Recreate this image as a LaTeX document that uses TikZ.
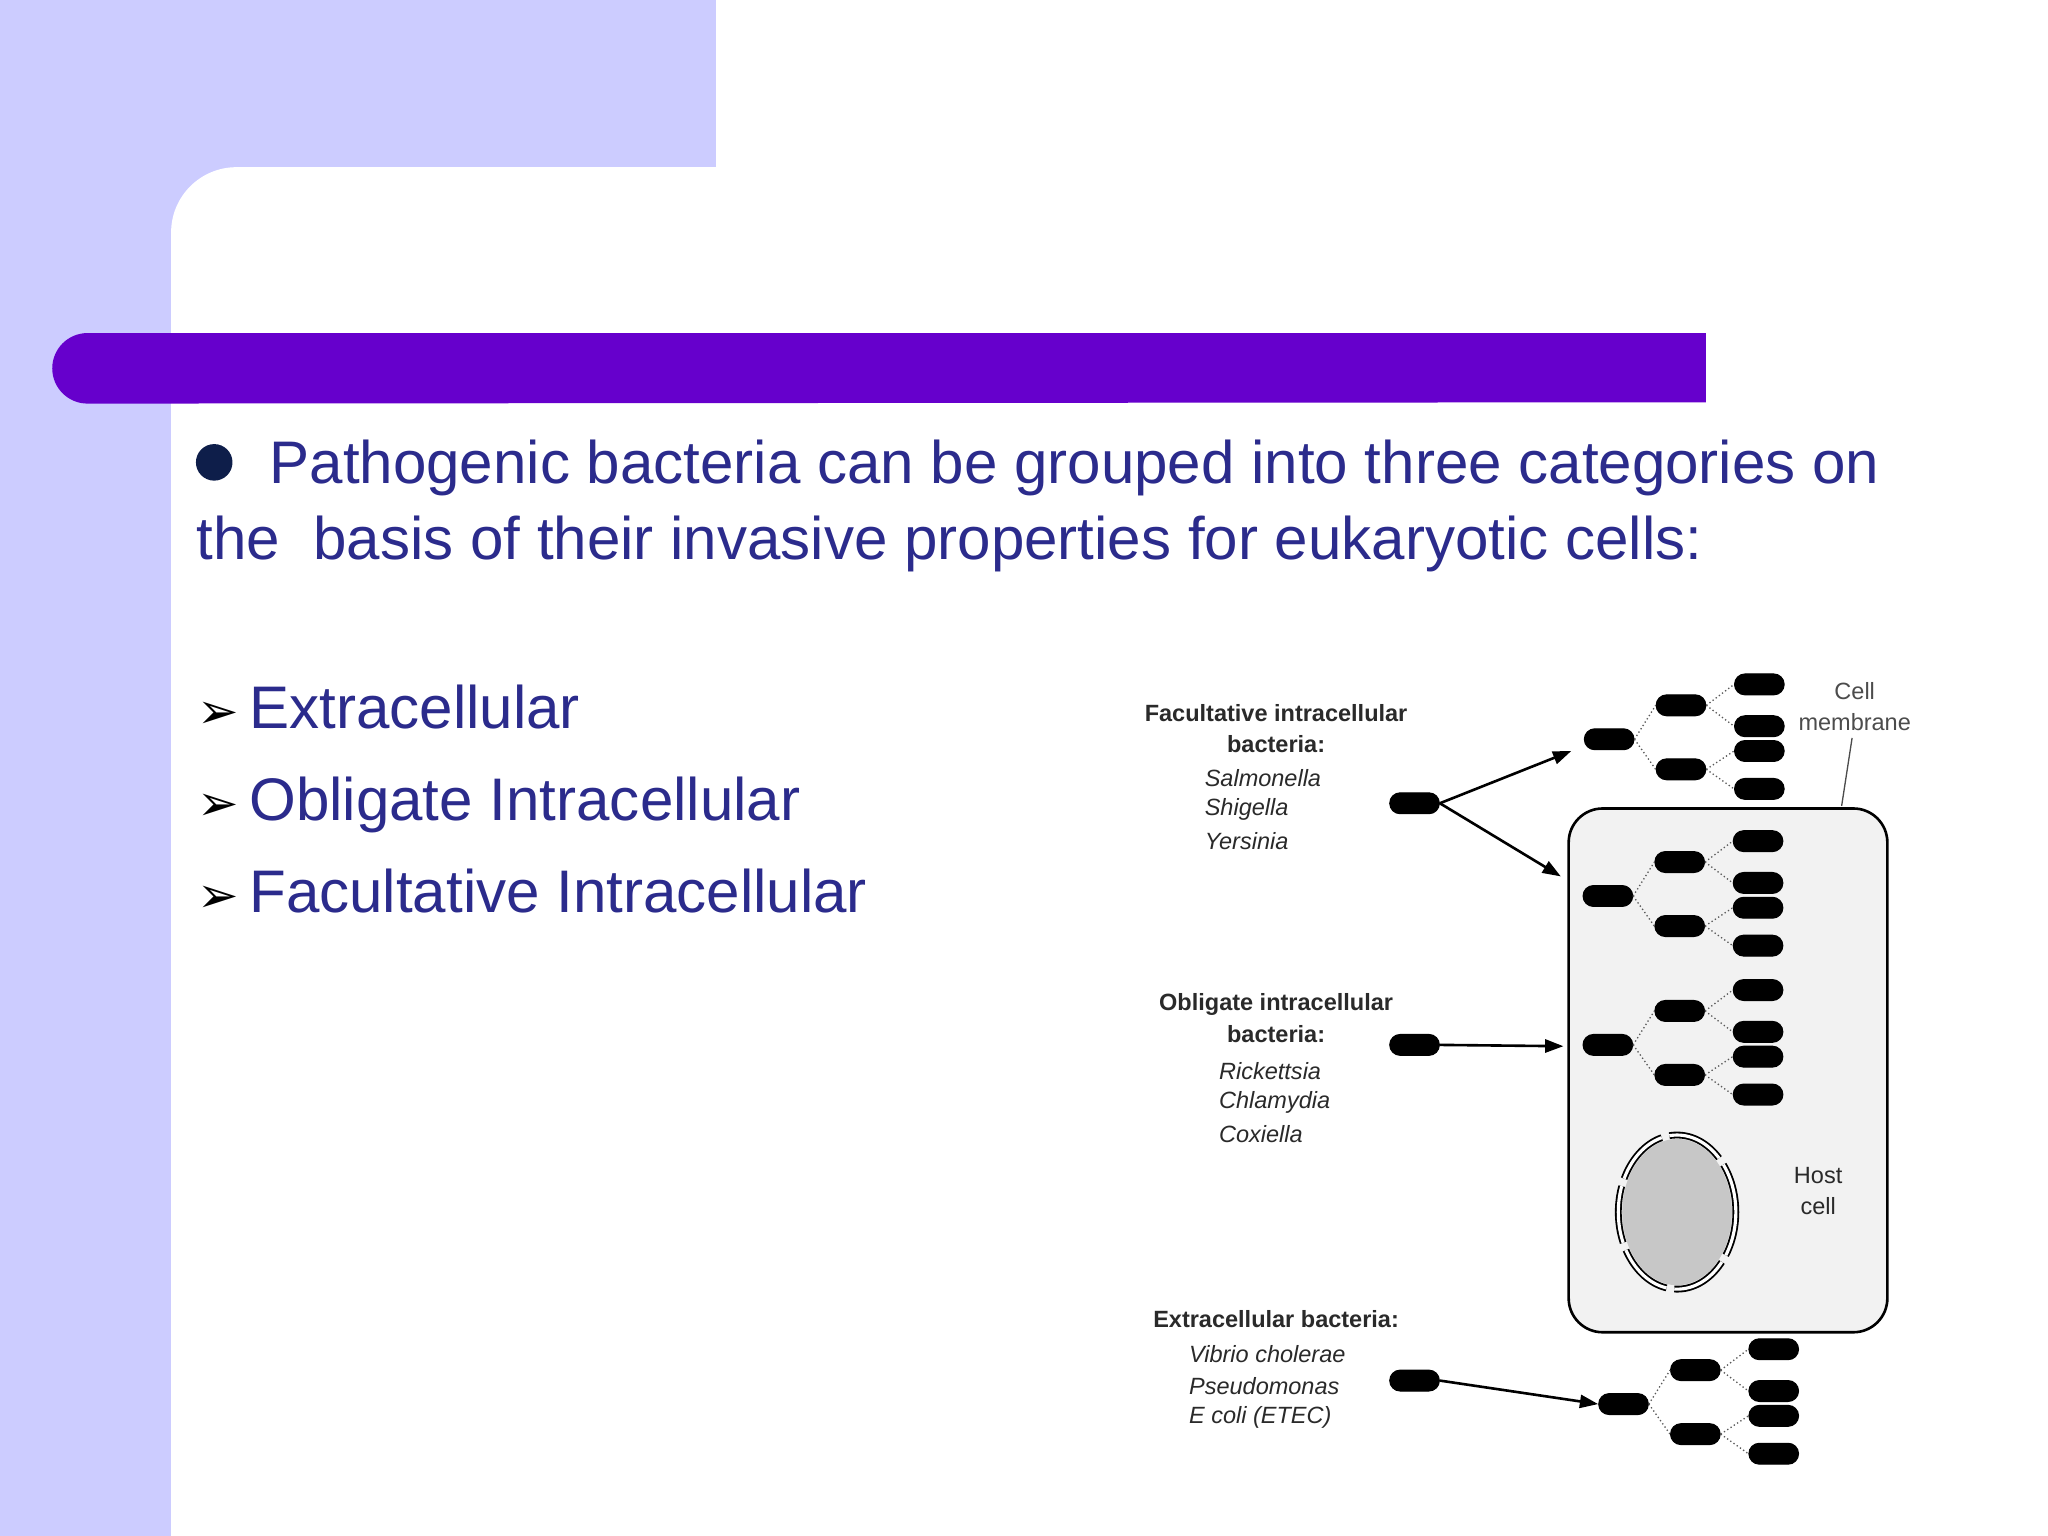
\documentclass[tikz,border=0pt]{standalone}
\usepackage{fontspec}
\setmainfont{Liberation Sans}
\newfontfamily\dejavu{DejaVu Sans}
\usetikzlibrary{arrows.meta}
\definecolor{lav}{HTML}{CCCCFF}
\definecolor{barpurple}{HTML}{6600CC}
\definecolor{txtblue}{HTML}{2B2B8C}
\definecolor{navy}{HTML}{0E1E4A}
\definecolor{dgray}{HTML}{2A2A2A}
\tikzset{
  bac/.style={draw=black,fill=black,rounded corners=4pt,minimum width=19pt,minimum height=8pt,inner sep=0pt},
  div/.style={draw=gray!70!black,densely dotted,line width=0.5pt},
  inarrow/.style={-{Triangle[length=7pt,width=5pt]},line width=1pt},
  lbl/.style={font=\fontsize{9}{10}\selectfont,text=dgray,inner sep=0pt},
  ilbl/.style={font=\fontsize{9}{10}\selectfont\itshape,text=dgray,inner sep=0pt,anchor=west},
  maintxt/.style={font=\fontsize{23}{28}\selectfont,text=txtblue,inner sep=0pt,anchor=base west}
}
\newcommand{\tree}[3]{% prefix, root x, root y
  \node[bac] (#1r) at (#2,#3) {};
  \node[bac] (#1a) at (#2+55,#3-26) {};
  \node[bac] (#1b) at (#2+55,#3+23) {};
  \node[bac] (#1a1) at (#2+115,#3-42) {};
  \node[bac] (#1a2) at (#2+115,#3-10) {};
  \node[bac] (#1b1) at (#2+115,#3+9) {};
  \node[bac] (#1b2) at (#2+115,#3+38) {};
  \draw[div] (#1r.east) -- (#1a.west);
  \draw[div] (#1r.east) -- (#1b.west);
  \draw[div] (#1a.east) -- (#1a1.west);
  \draw[div] (#1a.east) -- (#1a2.west);
  \draw[div] (#1b.east) -- (#1b1.west);
  \draw[div] (#1b.east) -- (#1b2.west);
}
\begin{document}
\begin{tikzpicture}[x=0.5pt,y=-0.5pt]
\useasboundingbox (0,0) rectangle (1568,1176);
\fill[white] (0,0) rectangle (1568,1176);
% background
\fill[lav] (0,0) rectangle (548,128);
\fill[lav] (0,0) rectangle (181,1176);
\fill[white,rounded corners=25pt] (131,128) rectangle (1700,1300);
% purple bar
\fill[barpurple] (1306,255) -- (67,255) arc[start angle=90,end angle=270,radius=13.5pt] -- (1306,308) -- cycle;
% heading
\fill[navy] (164,354) circle (7pt);
\node[maintxt] (h1) at (206,370) {Pathogenic bacteria can be grouped into three categories on};
\node[maintxt] (h2) at (150,428) {the\ \ basis of their invasive properties for eukaryotic cells:};
\node[maintxt] (l1) at (151,558) {{\dejavu\fontsize{19}{20}\selectfont\color{black}➢}\,Extracellular};
\node[maintxt] (l2) at (151,628) {{\dejavu\fontsize{19}{20}\selectfont\color{black}➢}\,Obligate Intracellular};
\node[maintxt] (l3) at (151,699) {{\dejavu\fontsize{19}{20}\selectfont\color{black}➢}\,Facultative Intracellular};
% host cell
\draw[line width=1pt,fill=black!5,rounded corners=13pt] (1201,619) rectangle (1445,1020);
\node[draw=none] (cell) at (1323,819) {};
\fill[black!22] (1284,928) ellipse (21pt and 28pt);
\draw[line width=2.6pt,dash pattern=on 22pt off 3pt,dash phase=3pt] (1284,928) ellipse (22.5pt and 29.5pt);
\draw[line width=1.2pt,dash pattern=on 22pt off 3pt,dash phase=3pt,white] (1284,928) ellipse (22.5pt and 29.5pt);
\node[lbl,align=center] (host) at (1392,912) {Host\\[2pt]cell};
\node[lbl,align=center,text=black!70] (memb) at (1420,541) {Cell\\[2pt]membrane};
\coordinate (mend) at (1410,617);
\draw[line width=0.5pt,black!70] (1418,565) -- (mend);
% trees
\tree{u}{1232}{566}
\tree{p}{1231}{686}
\tree{q}{1231}{800}
\tree{e}{1243}{1075}
% facultative
\node[lbl,font=\fontsize{9}{10}\selectfont\bfseries] (f1) at (977,546) {Facultative intracellular};
\node[lbl,font=\fontsize{9}{10}\selectfont\bfseries] (f2) at (977,570) {bacteria:};
\node[ilbl] at (922,596) {Salmonella};
\node[ilbl] at (922,620) {Shigella};
\node[ilbl] at (922,644) {Yersinia};
\node[bac] (fs) at (1083,615) {};
\coordinate (fa) at (1203,575);
\coordinate (fb) at (1195,671);
\draw[inarrow] (fs.east) -- (fa);
\draw[inarrow] (fs.east) -- (fb);
% obligate
\node[lbl,font=\fontsize{9}{10}\selectfont\bfseries] at (977,769) {Obligate intracellular};
\node[lbl,font=\fontsize{9}{10}\selectfont\bfseries] at (977,792) {bacteria:};
\node[ilbl] at (933,820) {Rickettsia};
\node[ilbl] at (933,844) {Chlamydia};
\node[ilbl] at (933,868) {Coxiella};
\node[bac] (os) at (1083,800) {};
\coordinate (oa) at (1197,801);
\draw[inarrow] (os.east) -- (oa);
% extracellular
\node[lbl,font=\fontsize{9}{10}\selectfont\bfseries] at (977,1010) {Extracellular bacteria:};
\node[ilbl] at (910,1037) {Vibrio cholerae};
\node[ilbl] at (910,1061) {Pseudomonas};
\node[ilbl] at (910,1085) {E coli (ETEC)};
\node[bac] (es) at (1083,1057) {};
\draw[inarrow] (es.east) -- (er.west);
\end{tikzpicture}
\end{document}
